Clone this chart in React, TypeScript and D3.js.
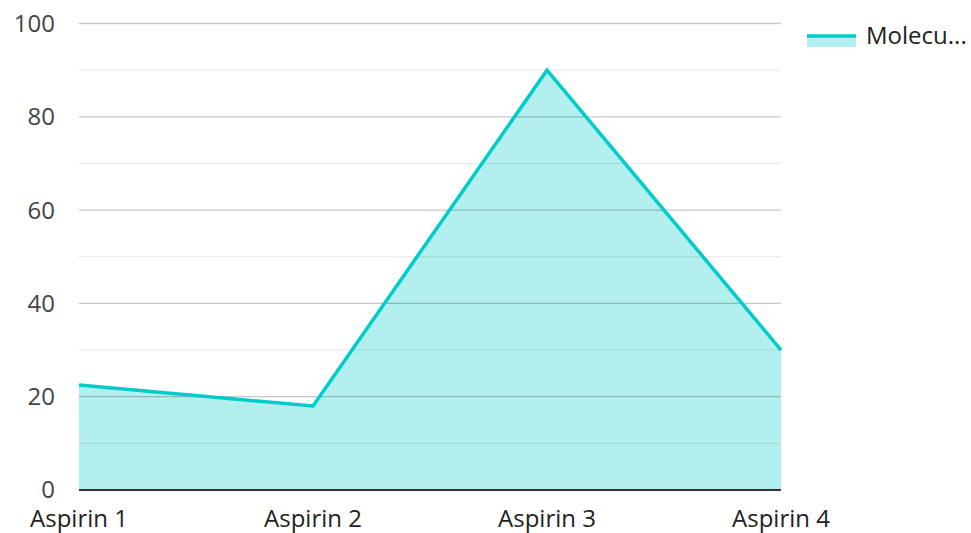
import React from "react";
import * as d3 from "d3";

const categories = ["Aspirin 1", "Aspirin 2", "Aspirin 3", "Aspirin 4"];
const values = [22.5, 18, 90, 30];
const majorTicks = [0, 20, 40, 60, 80, 100];
const minorTicks = [10, 30, 50, 70, 90];
const seriesName = "Molecu...";

const W = 971, H = 533;
const left = 79, right = 781, top = 23.5, bottom = 490;
const lineColor = "#00cccc";
const fillColor = "#b2efee";
const font = "'Open Sans', 'Noto Sans', sans-serif";

export default function App() {
  const x = d3.scalePoint<string>().domain(categories).range([left, right]);
  const y = d3.scaleLinear().domain([0, 100]).range([bottom, top]);
  const data = categories.map((c, i) => ({ c, v: values[i] }));
  const area = d3.area<{ c: string; v: number }>().x(d => x(d.c)!).y0(y(0)).y1(d => y(d.v));
  const line = d3.line<{ c: string; v: number }>().x(d => x(d.c)!).y(d => y(d.v));
  return (
    <svg width={W} height={H} style={{ position: "absolute", left: 0, top: 0, fontFamily: font }}>
      <path d={area(data)!} fill={fillColor} />
      {minorTicks.map(t => (
        <line key={"m" + t} x1={left} x2={right} y1={y(t)} y2={y(t)} stroke="#000" strokeOpacity={0.09} strokeWidth={1} />
      ))}
      {majorTicks.filter(t => t !== 0).map(t => (
        <line key={"g" + t} x1={left} x2={right} y1={y(t)} y2={y(t)} stroke="#000" strokeOpacity={0.22} strokeWidth={1.3} />
      ))}
      <path d={line(data)!} fill="none" stroke={lineColor} strokeWidth={3.5} strokeLinejoin="miter" />
      <line x1={left} x2={right} y1={y(0)} y2={y(0)} stroke="#333" strokeWidth={2} />
      {majorTicks.map(t => (
        <text key={"t" + t} x={55} y={y(t)} dy="0.35em" textAnchor="end" fontSize={24} fill="#444">{t}</text>
      ))}
      {categories.map(c => (
        <text key={c} x={x(c)!} y={527} textAnchor="middle" fontSize={24} fill="#222">{c}</text>
      ))}
      <rect x={807} y={37} width={49} height={10} fill={fillColor} />
      <line x1={807} x2={856} y1={36} y2={36} stroke={lineColor} strokeWidth={3.5} />
      <text x={866} y={36} dy="0.35em" fontSize={24} fill="#222">{seriesName}</text>
    </svg>
  );
}
